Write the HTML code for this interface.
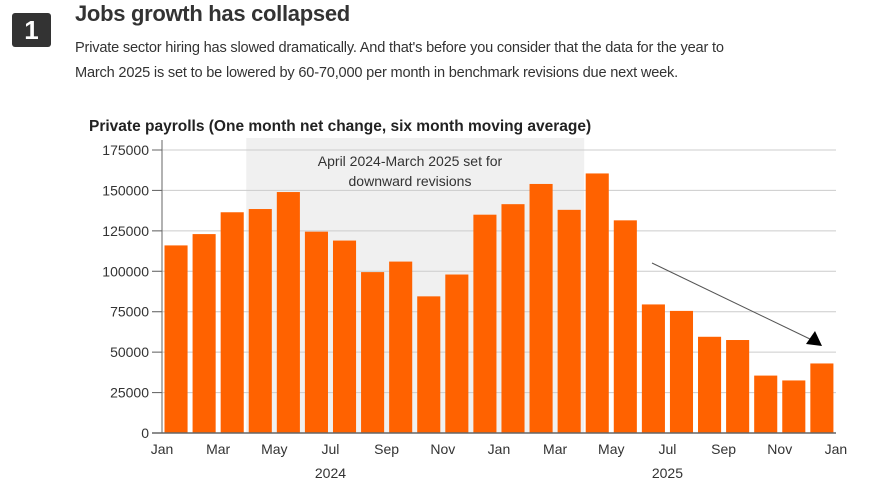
<!DOCTYPE html>
<html><head><meta charset="utf-8"><style>
body{margin:0;width:869px;height:488px;background:#fff;font-family:"Liberation Sans",sans-serif;color:#333;overflow:hidden;position:relative}
.badge{position:absolute;left:12px;top:13px;width:39px;height:34px;background:#333;border-radius:3px;color:#fff;font-weight:bold;font-size:26px;text-align:center;line-height:34px}
.h{position:absolute;left:75px;top:1px;font-size:22px;font-weight:bold;color:#333;letter-spacing:-0.3px}
.sub{position:absolute;left:75px;top:36px;font-size:14.6px;line-height:25px;color:#333;width:760px;letter-spacing:-0.2px}
</style></head><body>
<div class="badge">1</div>
<div class="h">Jobs growth has collapsed</div>
<div class="sub">Private sector hiring has slowed dramatically. And that's before you consider that the data for the year to<br>March 2025 is set to be lowered by 60-70,000 per month in benchmark revisions due next week.</div>
<svg id="c" width="869" height="488" style="position:absolute;left:0;top:0"></svg>
<script>
const months=["Jan","Feb","Mar","Apr","May","Jun","Jul","Aug","Sep","Oct","Nov","Dec","Jan","Feb","Mar","Apr","May","Jun","Jul","Aug","Sep","Oct","Nov","Dec"];
const values=[116000,123000,136500,138500,149000,124500,119000,99500,106000,84500,98000,135000,141500,154000,138000,160500,131500,79500,75500,59500,57500,35500,32500,43000];
const yTicks=[0,25000,50000,75000,100000,125000,150000,175000];
const xTickLabels=["Jan","Mar","May","Jul","Sep","Nov","Jan","Mar","May","Jul","Sep","Nov","Jan"];
const years=["2024","2025"];
const shadeRange=[3,15];
const NS="http://www.w3.org/2000/svg";
const svg=document.getElementById('c');
const x0=162,mw=28.08,y0=433,ymax=175000,ytop=150;
const X=i=>x0+i*mw;
const Y=v=>y0-(v/ymax)*(y0-ytop);
function el(t,a,txt){const e=document.createElementNS(NS,t);for(const k in a)e.setAttribute(k,a[k]);if(txt!=null)e.textContent=txt;svg.appendChild(e);return e;}
const ff='"Liberation Sans",sans-serif';
let t=el('text',{x:89,y:131,'font-size':15.5,'font-weight':'bold',fill:'#222','font-family':ff},'Private payrolls (One month net change, six month moving average)');


let sh=el('rect',{x:X(shadeRange[0]),y:138,width:X(shadeRange[1])-X(shadeRange[0])+1,height:y0-138,fill:'#f0f0f0'});


yTicks.forEach(v=>{
 if(v>0){const g=el('line',{x1:x0-10,x2:836,y1:Y(v),y2:Y(v),stroke:'#ccc','stroke-width':1});
 
 }
 const tk=el('line',{x1:x0-10,x2:x0,y1:Y(v),y2:Y(v),stroke:'#666'});
 
 
 const l=el('text',{x:x0-13,y:Y(v)+5,'text-anchor':'end','font-size':14,fill:'#333','font-family':ff},v);
 
 
});
const a1=el('text',{x:410,y:166,'text-anchor':'middle','font-size':14,fill:'#333','font-family':ff},'April 2024-March 2025 set for');


const a2=el('text',{x:410,y:186,'text-anchor':'middle','font-size':14,fill:'#333','font-family':ff},'downward revisions');


values.forEach((v,i)=>{
 const b=el('rect',{x:X(i)+2.5,y:Y(v),width:mw-5,height:y0-Y(v),fill:'#ff6200'});
 
 
});
const ax=el('line',{x1:x0,x2:x0,y1:140,y2:y0,stroke:'#666'});


const xa=el('line',{x1:x0-10,x2:836,y1:y0,y2:y0,stroke:'#666','stroke-width':1.5});


xTickLabels.forEach((m,k)=>{
 const l=el('text',{x:X(k*2),y:454,'text-anchor':'middle','font-size':14,fill:'#333','font-family':ff},m);
 
 
});
years.forEach((yr,k)=>{
 const l=el('text',{x:X(6+k*12),y:478,'text-anchor':'middle','font-size':14,fill:'#333','font-family':ff},yr);
 
 
});
const ar=el('line',{x1:652,y1:263,x2:812,y2:340,stroke:'#555','stroke-width':1});


const ah=el('polygon',{points:'822,346 806,344 815,331',fill:'#000'});


</script>
</body></html>
